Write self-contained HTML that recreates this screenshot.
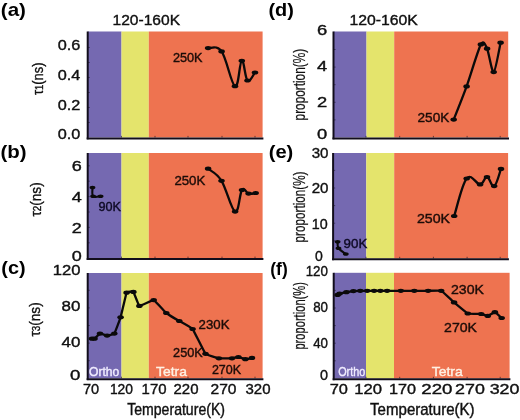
<!DOCTYPE html>
<html><head><meta charset="utf-8"><title>figure</title>
<style>html,body{margin:0;padding:0;background:#fff}svg{display:block;font-family:"Liberation Sans", Arial, sans-serif}</style></head>
<body><svg width="520" height="420" viewBox="0 0 520 420">
<rect width="520" height="420" fill="#fff"/>
<rect x="87.7" y="31.5" width="33.8" height="106.0" fill="#7569b1"/>
<rect x="121.5" y="31.5" width="27.3" height="106.0" fill="#e4e46c"/>
<rect x="148.8" y="31.5" width="113.8" height="106.0" fill="#ee7350"/>
<line x1="121.5" y1="137.5" x2="121.5" y2="135.9" stroke="#120e1c" stroke-width="0.6"/>
<line x1="155" y1="137.5" x2="155" y2="135.9" stroke="#120e1c" stroke-width="0.6"/>
<line x1="188" y1="137.5" x2="188" y2="135.9" stroke="#120e1c" stroke-width="0.6"/>
<line x1="222" y1="137.5" x2="222" y2="135.9" stroke="#120e1c" stroke-width="0.6"/>
<line x1="255" y1="137.5" x2="255" y2="135.9" stroke="#120e1c" stroke-width="0.6"/>
<line x1="87.7" y1="122.5" x2="89.8" y2="122.5" stroke="#120e1c" stroke-width="0.5"/>
<line x1="87.7" y1="107.5" x2="89.8" y2="107.5" stroke="#120e1c" stroke-width="0.5"/>
<line x1="87.7" y1="92.5" x2="89.8" y2="92.5" stroke="#120e1c" stroke-width="0.5"/>
<line x1="87.7" y1="77.5" x2="89.8" y2="77.5" stroke="#120e1c" stroke-width="0.5"/>
<line x1="87.7" y1="62.5" x2="89.8" y2="62.5" stroke="#120e1c" stroke-width="0.5"/>
<line x1="87.7" y1="47.5" x2="89.8" y2="47.5" stroke="#120e1c" stroke-width="0.5"/>
<line x1="87.7" y1="31.5" x2="87.7" y2="139.3" stroke="#120e1c" stroke-width="2"/>
<line x1="86.7" y1="138.4" x2="263.40000000000003" y2="138.4" stroke="#120e1c" stroke-width="2"/>
<rect x="87.7" y="153" width="33.8" height="105.2" fill="#7569b1"/>
<rect x="121.5" y="153" width="27.3" height="105.2" fill="#e4e46c"/>
<rect x="148.8" y="153" width="113.8" height="105.2" fill="#ee7350"/>
<line x1="121.5" y1="258.2" x2="121.5" y2="256.59999999999997" stroke="#120e1c" stroke-width="0.6"/>
<line x1="155" y1="258.2" x2="155" y2="256.59999999999997" stroke="#120e1c" stroke-width="0.6"/>
<line x1="188" y1="258.2" x2="188" y2="256.59999999999997" stroke="#120e1c" stroke-width="0.6"/>
<line x1="222" y1="258.2" x2="222" y2="256.59999999999997" stroke="#120e1c" stroke-width="0.6"/>
<line x1="255" y1="258.2" x2="255" y2="256.59999999999997" stroke="#120e1c" stroke-width="0.6"/>
<line x1="87.7" y1="242.8" x2="89.8" y2="242.8" stroke="#120e1c" stroke-width="0.5"/>
<line x1="87.7" y1="227.4" x2="89.8" y2="227.4" stroke="#120e1c" stroke-width="0.5"/>
<line x1="87.7" y1="212.0" x2="89.8" y2="212.0" stroke="#120e1c" stroke-width="0.5"/>
<line x1="87.7" y1="196.6" x2="89.8" y2="196.6" stroke="#120e1c" stroke-width="0.5"/>
<line x1="87.7" y1="181.2" x2="89.8" y2="181.2" stroke="#120e1c" stroke-width="0.5"/>
<line x1="87.7" y1="165.8" x2="89.8" y2="165.8" stroke="#120e1c" stroke-width="0.5"/>
<line x1="87.7" y1="153" x2="87.7" y2="260.0" stroke="#120e1c" stroke-width="2"/>
<line x1="86.7" y1="259.09999999999997" x2="263.40000000000003" y2="259.09999999999997" stroke="#120e1c" stroke-width="2"/>
<rect x="87.7" y="273" width="33.8" height="105.3" fill="#7569b1"/>
<rect x="121.5" y="273" width="27.3" height="105.3" fill="#e4e46c"/>
<rect x="148.8" y="273" width="113.8" height="105.3" fill="#ee7350"/>
<line x1="121.5" y1="378.3" x2="121.5" y2="376.7" stroke="#120e1c" stroke-width="0.6"/>
<line x1="155" y1="378.3" x2="155" y2="376.7" stroke="#120e1c" stroke-width="0.6"/>
<line x1="188" y1="378.3" x2="188" y2="376.7" stroke="#120e1c" stroke-width="0.6"/>
<line x1="222" y1="378.3" x2="222" y2="376.7" stroke="#120e1c" stroke-width="0.6"/>
<line x1="255" y1="378.3" x2="255" y2="376.7" stroke="#120e1c" stroke-width="0.6"/>
<line x1="87.7" y1="360.7" x2="89.8" y2="360.7" stroke="#120e1c" stroke-width="0.5"/>
<line x1="87.7" y1="343.1" x2="89.8" y2="343.1" stroke="#120e1c" stroke-width="0.5"/>
<line x1="87.7" y1="325.5" x2="89.8" y2="325.5" stroke="#120e1c" stroke-width="0.5"/>
<line x1="87.7" y1="307.9" x2="89.8" y2="307.9" stroke="#120e1c" stroke-width="0.5"/>
<line x1="87.7" y1="290.3" x2="89.8" y2="290.3" stroke="#120e1c" stroke-width="0.5"/>
<line x1="87.7" y1="273" x2="87.7" y2="380.1" stroke="#120e1c" stroke-width="2"/>
<line x1="86.7" y1="379.2" x2="263.40000000000003" y2="379.2" stroke="#120e1c" stroke-width="2"/>
<rect x="333.5" y="31.5" width="33.0" height="106.0" fill="#7569b1"/>
<rect x="366.5" y="31.5" width="27.7" height="106.0" fill="#e4e46c"/>
<rect x="394.2" y="31.5" width="114.0" height="106.0" fill="#ee7350"/>
<line x1="366" y1="137.5" x2="366" y2="135.9" stroke="#120e1c" stroke-width="0.6"/>
<line x1="399.7" y1="137.5" x2="399.7" y2="135.9" stroke="#120e1c" stroke-width="0.6"/>
<line x1="433.4" y1="137.5" x2="433.4" y2="135.9" stroke="#120e1c" stroke-width="0.6"/>
<line x1="467.1" y1="137.5" x2="467.1" y2="135.9" stroke="#120e1c" stroke-width="0.6"/>
<line x1="500.2" y1="137.5" x2="500.2" y2="135.9" stroke="#120e1c" stroke-width="0.6"/>
<line x1="333.5" y1="119.9" x2="335.6" y2="119.9" stroke="#120e1c" stroke-width="0.5"/>
<line x1="333.5" y1="102.3" x2="335.6" y2="102.3" stroke="#120e1c" stroke-width="0.5"/>
<line x1="333.5" y1="84.7" x2="335.6" y2="84.7" stroke="#120e1c" stroke-width="0.5"/>
<line x1="333.5" y1="67.1" x2="335.6" y2="67.1" stroke="#120e1c" stroke-width="0.5"/>
<line x1="333.5" y1="49.5" x2="335.6" y2="49.5" stroke="#120e1c" stroke-width="0.5"/>
<line x1="333.5" y1="31.5" x2="333.5" y2="139.3" stroke="#120e1c" stroke-width="2"/>
<line x1="332.5" y1="138.4" x2="509.0" y2="138.4" stroke="#120e1c" stroke-width="2"/>
<rect x="333.1" y="153" width="33.2" height="105.4" fill="#7569b1"/>
<rect x="366.3" y="153" width="27.9" height="105.4" fill="#e4e46c"/>
<rect x="394.2" y="153" width="113.9" height="105.4" fill="#ee7350"/>
<line x1="366" y1="258.4" x2="366" y2="256.79999999999995" stroke="#120e1c" stroke-width="0.6"/>
<line x1="399.7" y1="258.4" x2="399.7" y2="256.79999999999995" stroke="#120e1c" stroke-width="0.6"/>
<line x1="433.4" y1="258.4" x2="433.4" y2="256.79999999999995" stroke="#120e1c" stroke-width="0.6"/>
<line x1="467.1" y1="258.4" x2="467.1" y2="256.79999999999995" stroke="#120e1c" stroke-width="0.6"/>
<line x1="500.2" y1="258.4" x2="500.2" y2="256.79999999999995" stroke="#120e1c" stroke-width="0.6"/>
<line x1="333.1" y1="240.8" x2="335.20000000000005" y2="240.8" stroke="#120e1c" stroke-width="0.5"/>
<line x1="333.1" y1="223.2" x2="335.20000000000005" y2="223.2" stroke="#120e1c" stroke-width="0.5"/>
<line x1="333.1" y1="205.6" x2="335.20000000000005" y2="205.6" stroke="#120e1c" stroke-width="0.5"/>
<line x1="333.1" y1="188.0" x2="335.20000000000005" y2="188.0" stroke="#120e1c" stroke-width="0.5"/>
<line x1="333.1" y1="170.4" x2="335.20000000000005" y2="170.4" stroke="#120e1c" stroke-width="0.5"/>
<line x1="333.1" y1="153" x2="333.1" y2="260.2" stroke="#120e1c" stroke-width="2"/>
<line x1="332.1" y1="259.29999999999995" x2="508.90000000000003" y2="259.29999999999995" stroke="#120e1c" stroke-width="2"/>
<rect x="333.7" y="272.8" width="32.3" height="105.6" fill="#7569b1"/>
<rect x="366" y="272.8" width="28.0" height="105.6" fill="#e4e46c"/>
<rect x="394" y="272.8" width="115.6" height="105.6" fill="#ee7350"/>
<line x1="366" y1="378.4" x2="366" y2="376.79999999999995" stroke="#120e1c" stroke-width="0.6"/>
<line x1="399.7" y1="378.4" x2="399.7" y2="376.79999999999995" stroke="#120e1c" stroke-width="0.6"/>
<line x1="433.4" y1="378.4" x2="433.4" y2="376.79999999999995" stroke="#120e1c" stroke-width="0.6"/>
<line x1="467.1" y1="378.4" x2="467.1" y2="376.79999999999995" stroke="#120e1c" stroke-width="0.6"/>
<line x1="500.2" y1="378.4" x2="500.2" y2="376.79999999999995" stroke="#120e1c" stroke-width="0.6"/>
<line x1="333.7" y1="360.8" x2="335.8" y2="360.8" stroke="#120e1c" stroke-width="0.5"/>
<line x1="333.7" y1="343.2" x2="335.8" y2="343.2" stroke="#120e1c" stroke-width="0.5"/>
<line x1="333.7" y1="325.6" x2="335.8" y2="325.6" stroke="#120e1c" stroke-width="0.5"/>
<line x1="333.7" y1="308.0" x2="335.8" y2="308.0" stroke="#120e1c" stroke-width="0.5"/>
<line x1="333.7" y1="290.4" x2="335.8" y2="290.4" stroke="#120e1c" stroke-width="0.5"/>
<line x1="333.7" y1="272.8" x2="333.7" y2="380.2" stroke="#120e1c" stroke-width="2"/>
<line x1="332.7" y1="379.29999999999995" x2="510.40000000000003" y2="379.29999999999995" stroke="#120e1c" stroke-width="2"/>
<path d="M208.1,48.1 C210.7,48.7 216.5,44.2 221.6,51.4 C226.7,58.6 231.2,84.5 235.0,86.2 C238.8,88.0 239.4,61.8 241.8,60.8 C244.1,59.7 245.0,78.3 247.5,80.5 C250.0,82.7 253.6,74.0 255.0,72.5" fill="none" stroke="#0b0a0a" stroke-width="2.3" stroke-linejoin="round" stroke-linecap="round"/>
<ellipse cx="208.1" cy="48.1" rx="3.26" ry="2.1" fill="#0b0a0a"/>
<ellipse cx="221.6" cy="51.4" rx="3.26" ry="2.1" fill="#0b0a0a"/>
<ellipse cx="235.0" cy="86.2" rx="3.26" ry="2.1" fill="#0b0a0a"/>
<ellipse cx="241.8" cy="60.8" rx="3.26" ry="2.1" fill="#0b0a0a"/>
<ellipse cx="247.5" cy="80.5" rx="3.26" ry="2.1" fill="#0b0a0a"/>
<ellipse cx="255.0" cy="72.5" rx="3.26" ry="2.1" fill="#0b0a0a"/>
<path d="M92.5,187.5 C92.6,189.2 91.6,194.6 93.1,196.3 C94.6,198.0 99.2,196.3 100.6,196.3" fill="none" stroke="#0b0a0a" stroke-width="2.1" stroke-linejoin="round" stroke-linecap="round"/>
<ellipse cx="92.5" cy="187.5" rx="2.90" ry="1.8" fill="#0b0a0a"/>
<ellipse cx="93.1" cy="196.3" rx="2.90" ry="1.8" fill="#0b0a0a"/>
<ellipse cx="100.6" cy="196.3" rx="2.90" ry="1.8" fill="#0b0a0a"/>
<path d="M208.1,168.7 C210.6,171.0 216.4,172.6 221.5,180.8 C226.6,189.0 231.2,209.9 235.1,211.6 C239.0,213.3 239.4,193.4 242.0,190.0 C244.6,186.6 246.0,193.0 248.6,193.6 C251.2,194.2 254.4,193.1 255.7,193.0" fill="none" stroke="#0b0a0a" stroke-width="2.3" stroke-linejoin="round" stroke-linecap="round"/>
<ellipse cx="208.1" cy="168.7" rx="3.26" ry="2.1" fill="#0b0a0a"/>
<ellipse cx="221.5" cy="180.8" rx="3.26" ry="2.1" fill="#0b0a0a"/>
<ellipse cx="235.1" cy="211.6" rx="3.26" ry="2.1" fill="#0b0a0a"/>
<ellipse cx="242.0" cy="190.0" rx="3.26" ry="2.1" fill="#0b0a0a"/>
<ellipse cx="248.6" cy="193.6" rx="3.26" ry="2.1" fill="#0b0a0a"/>
<ellipse cx="255.7" cy="193.0" rx="3.26" ry="2.1" fill="#0b0a0a"/>
<path d="M92.0,338.7 C92.1,338.7 94.2,338.9 94.5,338.7 C94.8,338.5 99.5,333.7 100.0,333.6 C100.5,333.5 106.5,335.6 107.1,335.6 C107.7,335.6 113.8,334.3 114.3,333.6 C114.8,332.9 120.1,318.9 120.6,317.3 C121.1,315.7 126.1,293.7 126.6,292.7 C127.1,291.7 132.9,291.4 133.4,291.9 C133.9,292.4 138.6,305.6 139.4,305.9 C140.2,306.2 152.6,299.8 153.7,300.1 C154.8,300.4 165.3,312.2 166.3,313.0 C167.3,313.8 178.2,320.4 179.3,321.0 C180.4,321.6 191.6,327.7 192.6,329.0 C193.6,330.3 204.4,352.6 205.5,353.8 C206.6,355.0 217.8,358.1 218.9,358.3 C220.0,358.5 231.2,358.4 232.0,358.3 C232.8,358.2 237.9,357.0 238.4,357.0 C238.9,357.0 244.9,359.2 245.4,359.2 C245.9,359.2 251.7,358.0 252.0,357.9" fill="none" stroke="#0b0a0a" stroke-width="2.3" stroke-linejoin="round" stroke-linecap="round"/>
<ellipse cx="92.0" cy="338.7" rx="3.26" ry="2.1" fill="#0b0a0a"/>
<ellipse cx="94.5" cy="338.7" rx="3.26" ry="2.1" fill="#0b0a0a"/>
<ellipse cx="100.0" cy="333.6" rx="3.26" ry="2.1" fill="#0b0a0a"/>
<ellipse cx="107.1" cy="335.6" rx="3.26" ry="2.1" fill="#0b0a0a"/>
<ellipse cx="114.3" cy="333.6" rx="3.26" ry="2.1" fill="#0b0a0a"/>
<ellipse cx="120.6" cy="317.3" rx="3.26" ry="2.1" fill="#0b0a0a"/>
<ellipse cx="126.6" cy="292.7" rx="3.26" ry="2.1" fill="#0b0a0a"/>
<ellipse cx="133.4" cy="291.9" rx="3.26" ry="2.1" fill="#0b0a0a"/>
<ellipse cx="139.4" cy="305.9" rx="3.26" ry="2.1" fill="#0b0a0a"/>
<ellipse cx="153.7" cy="300.1" rx="3.26" ry="2.1" fill="#0b0a0a"/>
<ellipse cx="166.3" cy="313.0" rx="3.26" ry="2.1" fill="#0b0a0a"/>
<ellipse cx="179.3" cy="321.0" rx="3.26" ry="2.1" fill="#0b0a0a"/>
<ellipse cx="192.6" cy="329.0" rx="3.26" ry="2.1" fill="#0b0a0a"/>
<ellipse cx="205.5" cy="353.8" rx="3.26" ry="2.1" fill="#0b0a0a"/>
<ellipse cx="218.9" cy="358.3" rx="3.26" ry="2.1" fill="#0b0a0a"/>
<ellipse cx="232.0" cy="358.3" rx="3.26" ry="2.1" fill="#0b0a0a"/>
<ellipse cx="238.4" cy="357.0" rx="3.26" ry="2.1" fill="#0b0a0a"/>
<ellipse cx="245.4" cy="359.2" rx="3.26" ry="2.1" fill="#0b0a0a"/>
<ellipse cx="252.0" cy="357.9" rx="3.26" ry="2.1" fill="#0b0a0a"/>
<path d="M453.7,119.6 C455.4,115.3 463.1,96.2 466.6,86.4 C470.1,76.6 478.2,49.3 480.9,44.4 C483.6,39.5 485.4,45.1 487.1,48.7 C488.8,52.3 491.9,72.9 493.7,72.1 C495.5,71.3 499.7,46.5 500.6,42.7" fill="none" stroke="#0b0a0a" stroke-width="2.3" stroke-linejoin="round" stroke-linecap="round"/>
<ellipse cx="453.7" cy="119.6" rx="3.26" ry="2.1" fill="#0b0a0a"/>
<ellipse cx="466.6" cy="86.4" rx="3.26" ry="2.1" fill="#0b0a0a"/>
<ellipse cx="480.9" cy="44.4" rx="3.26" ry="2.1" fill="#0b0a0a"/>
<ellipse cx="487.1" cy="48.7" rx="3.26" ry="2.1" fill="#0b0a0a"/>
<ellipse cx="493.7" cy="72.1" rx="3.26" ry="2.1" fill="#0b0a0a"/>
<ellipse cx="500.6" cy="42.7" rx="3.26" ry="2.1" fill="#0b0a0a"/>
<path d="M337.6,241.8 C337.8,243.0 336.9,245.9 338.5,248.2 C340.1,250.5 344.4,252.9 345.8,254.0" fill="none" stroke="#0b0a0a" stroke-width="2.1" stroke-linejoin="round" stroke-linecap="round"/>
<ellipse cx="337.6" cy="241.8" rx="2.90" ry="1.8" fill="#0b0a0a"/>
<ellipse cx="338.5" cy="248.2" rx="2.90" ry="1.8" fill="#0b0a0a"/>
<ellipse cx="345.8" cy="254.0" rx="2.90" ry="1.8" fill="#0b0a0a"/>
<path d="M454.2,216.0 C456.6,208.9 461.8,184.5 466.7,178.5 C471.6,172.5 476.2,184.7 480.1,184.4 C484.0,184.1 484.3,176.7 487.0,177.0 C489.7,177.3 491.5,187.6 494.2,186.1 C496.9,184.6 499.7,172.2 501.0,168.9" fill="none" stroke="#0b0a0a" stroke-width="2.3" stroke-linejoin="round" stroke-linecap="round"/>
<ellipse cx="454.2" cy="216.0" rx="3.26" ry="2.1" fill="#0b0a0a"/>
<ellipse cx="466.7" cy="178.5" rx="3.26" ry="2.1" fill="#0b0a0a"/>
<ellipse cx="480.1" cy="184.4" rx="3.26" ry="2.1" fill="#0b0a0a"/>
<ellipse cx="487.0" cy="177.0" rx="3.26" ry="2.1" fill="#0b0a0a"/>
<ellipse cx="494.2" cy="186.1" rx="3.26" ry="2.1" fill="#0b0a0a"/>
<ellipse cx="501.0" cy="168.9" rx="3.26" ry="2.1" fill="#0b0a0a"/>
<path d="M337.6,294.9 C337.7,294.8 339.2,293.7 339.6,293.6 C340.0,293.5 345.8,292.3 346.4,292.2 C347.0,292.1 352.8,291.2 353.4,291.1 C354.0,291.0 359.7,290.8 360.3,290.8 C360.9,290.8 366.6,290.8 367.2,290.8 C367.8,290.8 373.6,290.8 374.1,290.8 C374.6,290.8 379.9,290.8 380.4,290.8 C380.9,290.8 386.3,290.8 387.1,290.8 C387.9,290.8 399.7,290.8 400.8,290.8 C401.9,290.8 413.2,290.8 414.3,290.8 C415.4,290.8 427.0,290.8 428.1,290.8 C429.2,290.8 440.2,290.3 441.2,290.8 C442.2,291.3 453.0,301.5 454.1,302.4 C455.2,303.3 466.7,313.0 467.8,313.5 C468.9,314.0 480.4,313.9 481.2,314.0 C482.0,314.1 487.3,316.0 487.8,315.9 C488.3,315.8 494.3,312.1 494.9,312.2 C495.5,312.3 501.4,317.8 501.7,318.0" fill="none" stroke="#0b0a0a" stroke-width="2.3" stroke-linejoin="round" stroke-linecap="round"/>
<ellipse cx="337.6" cy="294.9" rx="3.26" ry="2.1" fill="#0b0a0a"/>
<ellipse cx="339.6" cy="293.6" rx="3.26" ry="2.1" fill="#0b0a0a"/>
<ellipse cx="346.4" cy="292.2" rx="3.26" ry="2.1" fill="#0b0a0a"/>
<ellipse cx="353.4" cy="291.1" rx="3.26" ry="2.1" fill="#0b0a0a"/>
<ellipse cx="360.3" cy="290.8" rx="3.26" ry="2.1" fill="#0b0a0a"/>
<ellipse cx="367.2" cy="290.8" rx="3.26" ry="2.1" fill="#0b0a0a"/>
<ellipse cx="374.1" cy="290.8" rx="3.26" ry="2.1" fill="#0b0a0a"/>
<ellipse cx="380.4" cy="290.8" rx="3.26" ry="2.1" fill="#0b0a0a"/>
<ellipse cx="387.1" cy="290.8" rx="3.26" ry="2.1" fill="#0b0a0a"/>
<ellipse cx="400.8" cy="290.8" rx="3.26" ry="2.1" fill="#0b0a0a"/>
<ellipse cx="414.3" cy="290.8" rx="3.26" ry="2.1" fill="#0b0a0a"/>
<ellipse cx="428.1" cy="290.8" rx="3.26" ry="2.1" fill="#0b0a0a"/>
<ellipse cx="441.2" cy="290.8" rx="3.26" ry="2.1" fill="#0b0a0a"/>
<ellipse cx="454.1" cy="302.4" rx="3.26" ry="2.1" fill="#0b0a0a"/>
<ellipse cx="467.8" cy="313.5" rx="3.26" ry="2.1" fill="#0b0a0a"/>
<ellipse cx="481.2" cy="314.0" rx="3.26" ry="2.1" fill="#0b0a0a"/>
<ellipse cx="487.8" cy="315.9" rx="3.26" ry="2.1" fill="#0b0a0a"/>
<ellipse cx="494.9" cy="312.2" rx="3.26" ry="2.1" fill="#0b0a0a"/>
<ellipse cx="501.7" cy="318.0" rx="3.26" ry="2.1" fill="#0b0a0a"/>
<text x="0.8" y="15.6" font-size="18.5" text-anchor="start" font-weight="bold" fill="#000" textLength="25.1" lengthAdjust="spacingAndGlyphs">(a)</text>
<text x="0.5" y="157.7" font-size="18.5" text-anchor="start" font-weight="bold" fill="#000" textLength="26.1" lengthAdjust="spacingAndGlyphs">(b)</text>
<text x="1.3" y="274.4" font-size="18.5" text-anchor="start" font-weight="bold" fill="#000" textLength="24.3" lengthAdjust="spacingAndGlyphs">(c)</text>
<text x="268.4" y="15.7" font-size="18.5" text-anchor="start" font-weight="bold" fill="#000" textLength="25.4" lengthAdjust="spacingAndGlyphs">(d)</text>
<text x="268.7" y="157.5" font-size="18.5" text-anchor="start" font-weight="bold" fill="#000" textLength="24.6" lengthAdjust="spacingAndGlyphs">(e)</text>
<text x="270.3" y="275.0" font-size="18.5" text-anchor="start" font-weight="bold" fill="#000" textLength="17.4" lengthAdjust="spacingAndGlyphs">(f)</text>
<text x="112.5" y="24.8" font-size="15.5" text-anchor="start" font-weight="normal" fill="#111" textLength="67.6" lengthAdjust="spacingAndGlyphs" stroke="#111" stroke-width="0.4">120-160K</text>
<text x="349.5" y="25.3" font-size="15.5" text-anchor="start" font-weight="normal" fill="#111" textLength="68.4" lengthAdjust="spacingAndGlyphs" stroke="#111" stroke-width="0.4">120-160K</text>
<text x="57.7" y="49.7" font-size="15" text-anchor="start" font-weight="normal" fill="#111" textLength="22.6" lengthAdjust="spacingAndGlyphs" stroke="#111" stroke-width="0.4">0.6</text>
<text x="57.7" y="79.9" font-size="15" text-anchor="start" font-weight="normal" fill="#111" textLength="22.6" lengthAdjust="spacingAndGlyphs" stroke="#111" stroke-width="0.4">0.4</text>
<text x="57.7" y="110.0" font-size="15" text-anchor="start" font-weight="normal" fill="#111" textLength="22.6" lengthAdjust="spacingAndGlyphs" stroke="#111" stroke-width="0.4">0.2</text>
<text x="57.7" y="138.8" font-size="15" text-anchor="start" font-weight="normal" fill="#111" textLength="22.6" lengthAdjust="spacingAndGlyphs" stroke="#111" stroke-width="0.4">0.0</text>
<text x="71.7" y="171.4" font-size="15" text-anchor="start" font-weight="normal" fill="#111" textLength="10.0" lengthAdjust="spacingAndGlyphs" stroke="#111" stroke-width="0.4">6</text>
<text x="71.7" y="202.0" font-size="15" text-anchor="start" font-weight="normal" fill="#111" textLength="10.0" lengthAdjust="spacingAndGlyphs" stroke="#111" stroke-width="0.4">4</text>
<text x="71.7" y="233.0" font-size="15" text-anchor="start" font-weight="normal" fill="#111" textLength="10.0" lengthAdjust="spacingAndGlyphs" stroke="#111" stroke-width="0.4">2</text>
<text x="71.7" y="261.0" font-size="15" text-anchor="start" font-weight="normal" fill="#111" textLength="10.0" lengthAdjust="spacingAndGlyphs" stroke="#111" stroke-width="0.4">0</text>
<text x="52.8" y="275.3" font-size="15" text-anchor="start" font-weight="normal" fill="#111" textLength="27.7" lengthAdjust="spacingAndGlyphs" stroke="#111" stroke-width="0.4">120</text>
<text x="61.5" y="311.1" font-size="15" text-anchor="start" font-weight="normal" fill="#111" textLength="18.8" lengthAdjust="spacingAndGlyphs" stroke="#111" stroke-width="0.4">80</text>
<text x="61.5" y="346.7" font-size="15" text-anchor="start" font-weight="normal" fill="#111" textLength="18.8" lengthAdjust="spacingAndGlyphs" stroke="#111" stroke-width="0.4">40</text>
<text x="69.9" y="380.1" font-size="15" text-anchor="start" font-weight="normal" fill="#111" textLength="10.4" lengthAdjust="spacingAndGlyphs" stroke="#111" stroke-width="0.4">0</text>
<text x="316.9" y="35.0" font-size="15" text-anchor="start" font-weight="normal" fill="#111" textLength="10.2" lengthAdjust="spacingAndGlyphs" stroke="#111" stroke-width="0.4">6</text>
<text x="316.9" y="71.3" font-size="15" text-anchor="start" font-weight="normal" fill="#111" textLength="10.2" lengthAdjust="spacingAndGlyphs" stroke="#111" stroke-width="0.4">4</text>
<text x="316.9" y="106.6" font-size="15" text-anchor="start" font-weight="normal" fill="#111" textLength="10.2" lengthAdjust="spacingAndGlyphs" stroke="#111" stroke-width="0.4">2</text>
<text x="316.9" y="139.2" font-size="15" text-anchor="start" font-weight="normal" fill="#111" textLength="10.2" lengthAdjust="spacingAndGlyphs" stroke="#111" stroke-width="0.4">0</text>
<text x="311.7" y="157.8" font-size="15" text-anchor="start" font-weight="normal" fill="#111" textLength="16.8" lengthAdjust="spacingAndGlyphs" stroke="#111" stroke-width="0.4">30</text>
<text x="311.7" y="192.7" font-size="15" text-anchor="start" font-weight="normal" fill="#111" textLength="16.8" lengthAdjust="spacingAndGlyphs" stroke="#111" stroke-width="0.4">20</text>
<text x="311.8" y="228.7" font-size="15" text-anchor="start" font-weight="normal" fill="#111" textLength="15.9" lengthAdjust="spacingAndGlyphs" stroke="#111" stroke-width="0.4">10</text>
<text x="315.1" y="261.0" font-size="15" text-anchor="start" font-weight="normal" fill="#111" textLength="7.8" lengthAdjust="spacingAndGlyphs" stroke="#111" stroke-width="0.4">0</text>
<text x="305.7" y="275.6" font-size="15" text-anchor="start" font-weight="normal" fill="#111" textLength="22.3" lengthAdjust="spacingAndGlyphs" stroke="#111" stroke-width="0.4">120</text>
<text x="313.2" y="311.5" font-size="15" text-anchor="start" font-weight="normal" fill="#111" textLength="14.8" lengthAdjust="spacingAndGlyphs" stroke="#111" stroke-width="0.4">80</text>
<text x="313.2" y="347.7" font-size="15" text-anchor="start" font-weight="normal" fill="#111" textLength="14.8" lengthAdjust="spacingAndGlyphs" stroke="#111" stroke-width="0.4">40</text>
<text x="320.0" y="380.0" font-size="15" text-anchor="start" font-weight="normal" fill="#111" textLength="8.0" lengthAdjust="spacingAndGlyphs" stroke="#111" stroke-width="0.4">0</text>
<text x="82.9" y="393.6" font-size="15" text-anchor="start" font-weight="normal" fill="#111" textLength="16.2" lengthAdjust="spacingAndGlyphs" stroke="#111" stroke-width="0.4">70</text>
<text x="109.9" y="393.6" font-size="15" text-anchor="start" font-weight="normal" fill="#111" textLength="23.1" lengthAdjust="spacingAndGlyphs" stroke="#111" stroke-width="0.4">120</text>
<text x="141.6" y="393.6" font-size="15" text-anchor="start" font-weight="normal" fill="#111" textLength="24.9" lengthAdjust="spacingAndGlyphs" stroke="#111" stroke-width="0.4">170</text>
<text x="173.5" y="393.6" font-size="15" text-anchor="start" font-weight="normal" fill="#111" textLength="25.0" lengthAdjust="spacingAndGlyphs" stroke="#111" stroke-width="0.4">220</text>
<text x="210.5" y="393.6" font-size="15" text-anchor="start" font-weight="normal" fill="#111" textLength="26.0" lengthAdjust="spacingAndGlyphs" stroke="#111" stroke-width="0.4">270</text>
<text x="245.5" y="393.6" font-size="15" text-anchor="start" font-weight="normal" fill="#111" textLength="25.0" lengthAdjust="spacingAndGlyphs" stroke="#111" stroke-width="0.4">320</text>
<text x="329.7" y="393.8" font-size="15" text-anchor="start" font-weight="normal" fill="#111" textLength="18.2" lengthAdjust="spacingAndGlyphs" stroke="#111" stroke-width="0.4">70</text>
<text x="354.3" y="393.8" font-size="15" text-anchor="start" font-weight="normal" fill="#111" textLength="27.8" lengthAdjust="spacingAndGlyphs" stroke="#111" stroke-width="0.4">120</text>
<text x="388.9" y="393.8" font-size="15" text-anchor="start" font-weight="normal" fill="#111" textLength="27.0" lengthAdjust="spacingAndGlyphs" stroke="#111" stroke-width="0.4">170</text>
<text x="421.3" y="393.8" font-size="15" text-anchor="start" font-weight="normal" fill="#111" textLength="31.2" lengthAdjust="spacingAndGlyphs" stroke="#111" stroke-width="0.4">220</text>
<text x="455.1" y="393.8" font-size="15" text-anchor="start" font-weight="normal" fill="#111" textLength="29.8" lengthAdjust="spacingAndGlyphs" stroke="#111" stroke-width="0.4">270</text>
<text x="489.7" y="393.8" font-size="15" text-anchor="start" font-weight="normal" fill="#111" textLength="29.8" lengthAdjust="spacingAndGlyphs" stroke="#111" stroke-width="0.4">320</text>
<text x="127.2" y="414.7" font-size="15.7" text-anchor="start" font-weight="normal" fill="#111" textLength="97.8" lengthAdjust="spacingAndGlyphs" stroke="#111" stroke-width="0.4">Temperature(K)</text>
<text x="370.1" y="414.6" font-size="15.7" text-anchor="start" font-weight="normal" fill="#111" textLength="104.5" lengthAdjust="spacingAndGlyphs" stroke="#111" stroke-width="0.4">Temperature(K)</text>
<text transform="translate(42.6,78.8) scale(1.0,1) rotate(-90)" x="-16.2" y="0" font-size="14.5" fill="#111" stroke="#111" stroke-width="0.35" textLength="32.5" lengthAdjust="spacingAndGlyphs">τ<tspan font-size="10.5">1</tspan>(ns)</text>
<text transform="translate(41,199.5) scale(1.0,1) rotate(-90)" x="-17.1" y="0" font-size="14.5" fill="#111" stroke="#111" stroke-width="0.35" textLength="34.3" lengthAdjust="spacingAndGlyphs">τ<tspan font-size="10.5">2</tspan>(ns)</text>
<text transform="translate(40.1,319.5) scale(1.0,1) rotate(-90)" x="-17.1" y="0" font-size="14.5" fill="#111" stroke="#111" stroke-width="0.35" textLength="34.3" lengthAdjust="spacingAndGlyphs">τ<tspan font-size="10.5">3</tspan>(ns)</text>
<text transform="translate(305,84.6) scale(1.17,1) rotate(-90)" x="-35.8" y="0" font-size="13.5" fill="#111" stroke="#111" stroke-width="0.2" textLength="71.5" lengthAdjust="spacingAndGlyphs">proportion(%)</text>
<text transform="translate(305,207) scale(1.17,1) rotate(-90)" x="-35.5" y="0" font-size="13.5" fill="#111" stroke="#111" stroke-width="0.2" textLength="71" lengthAdjust="spacingAndGlyphs">proportion(%)</text>
<text transform="translate(305,315.8) scale(1.17,1) rotate(-90)" x="-33.8" y="0" font-size="13.5" fill="#111" stroke="#111" stroke-width="0.2" textLength="67.5" lengthAdjust="spacingAndGlyphs">proportion(%)</text>
<text x="172.9" y="62.3" font-size="13.3" text-anchor="start" font-weight="normal" fill="#1c0c08" textLength="29.7" lengthAdjust="spacingAndGlyphs" stroke="#1c0c08" stroke-width="0.4">250K</text>
<text x="174.4" y="185.0" font-size="13.3" text-anchor="start" font-weight="normal" fill="#1c0c08" textLength="30.9" lengthAdjust="spacingAndGlyphs" stroke="#1c0c08" stroke-width="0.4">250K</text>
<text x="98.4" y="210.6" font-size="13.3" text-anchor="start" font-weight="normal" fill="#0e0a24" textLength="22.5" lengthAdjust="spacingAndGlyphs" stroke="#0e0a24" stroke-width="0.4">90K</text>
<text x="198.6" y="328.7" font-size="13.3" text-anchor="start" font-weight="normal" fill="#1c0c08" textLength="30.9" lengthAdjust="spacingAndGlyphs" stroke="#1c0c08" stroke-width="0.4">230K</text>
<text x="173.1" y="356.7" font-size="13.3" text-anchor="start" font-weight="normal" fill="#1c0c08" textLength="29.7" lengthAdjust="spacingAndGlyphs" stroke="#1c0c08" stroke-width="0.4">250K</text>
<text x="211.9" y="374.2" font-size="13.3" text-anchor="start" font-weight="normal" fill="#1c0c08" textLength="29.2" lengthAdjust="spacingAndGlyphs" stroke="#1c0c08" stroke-width="0.4">270K</text>
<text x="417.5" y="122.3" font-size="13.3" text-anchor="start" font-weight="normal" fill="#1c0c08" textLength="31.8" lengthAdjust="spacingAndGlyphs" stroke="#1c0c08" stroke-width="0.4">250K</text>
<text x="416.9" y="222.5" font-size="13.3" text-anchor="start" font-weight="normal" fill="#1c0c08" textLength="33.1" lengthAdjust="spacingAndGlyphs" stroke="#1c0c08" stroke-width="0.4">250K</text>
<text x="343.6" y="248.3" font-size="13.3" text-anchor="start" font-weight="normal" fill="#0e0a24" textLength="23.7" lengthAdjust="spacingAndGlyphs" stroke="#0e0a24" stroke-width="0.4">90K</text>
<text x="451.0" y="293.7" font-size="13.3" text-anchor="start" font-weight="normal" fill="#1c0c08" textLength="32.9" lengthAdjust="spacingAndGlyphs" stroke="#1c0c08" stroke-width="0.4">230K</text>
<text x="444.1" y="332.1" font-size="13.3" text-anchor="start" font-weight="normal" fill="#1c0c08" textLength="32.9" lengthAdjust="spacingAndGlyphs" stroke="#1c0c08" stroke-width="0.4">270K</text>
<text x="89.0" y="376.0" font-size="12.5" text-anchor="start" font-weight="normal" fill="#f0ecff" textLength="30.2" lengthAdjust="spacingAndGlyphs" stroke="#f0ecff" stroke-width="0.4">Ortho</text>
<text x="156.1" y="375.6" font-size="13.5" text-anchor="start" font-weight="normal" fill="#fff1e4" textLength="30.8" lengthAdjust="spacingAndGlyphs" stroke="#fff1e4" stroke-width="0.4">Tetra</text>
<text x="338.2" y="375.8" font-size="13.5" text-anchor="start" font-weight="normal" fill="#f0ecff" textLength="27.1" lengthAdjust="spacingAndGlyphs" stroke="#f0ecff" stroke-width="0.4">Ortho</text>
<text x="431.7" y="375.8" font-size="13.5" text-anchor="start" font-weight="normal" fill="#fff1e4" textLength="31.1" lengthAdjust="spacingAndGlyphs" stroke="#fff1e4" stroke-width="0.4">Tetra</text>
</svg></body></html>
